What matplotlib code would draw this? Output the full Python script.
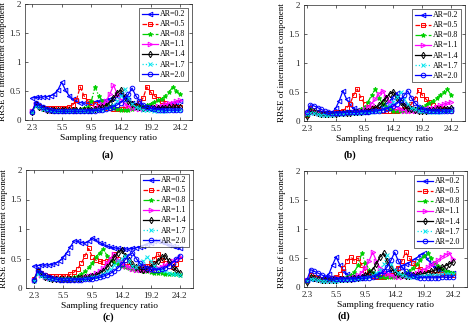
import matplotlib
matplotlib.use('Agg')
import matplotlib.pyplot as plt

plt.rcParams['font.family'] = ['Liberation Serif', 'DejaVu Serif']

# tick labels of the sampling frequency ratio axis (placed every 8 samples)
x_ticklabels = ['2.3', '5.5', '9.5', '14.2', '19.2', '24.2']
y_ticks = [0, 0.5, 1, 1.5, 2]
y_ticklabels = ['0', '0.5', '1', '1.5', '2']
ar_labels = ['AR=0.2', 'AR=0.5', 'AR=0.8', 'AR=1.1', 'AR=1.4', 'AR=1.7', 'AR=2.0']

# ---- case (a) ----
a_ar02 = [0.38, 0.39, 0.39, 0.40, 0.40, 0.42, 0.45, 0.52, 0.65, 0.52, 0.42, 0.36, 0.32, 0.30, 0.29, 0.29,
          0.30, 0.31, 0.32, 0.33, 0.34, 0.36, 0.38, 0.42, 0.45, 0.40, 0.35, 0.30, 0.27, 0.25, 0.23, 0.22,
          0.21, 0.21, 0.22, 0.23, 0.25, 0.27, 0.29, 0.31, 0.33]
a_ar05 = [0.14, 0.27, 0.24, 0.21, 0.20, 0.20, 0.20, 0.20, 0.20, 0.21, 0.22, 0.26, 0.35, 0.57, 0.42, 0.33,
          0.30, 0.27, 0.25, 0.23, 0.21, 0.20, 0.19, 0.19, 0.19, 0.19, 0.20, 0.22, 0.25, 0.30, 0.38, 0.57,
          0.48, 0.42, 0.37, 0.33, 0.29, 0.26, 0.24, 0.23, 0.22]
a_ar08 = [0.13, 0.26, 0.22, 0.19, 0.17, 0.16, 0.16, 0.16, 0.16, 0.16, 0.16, 0.17, 0.17, 0.18, 0.20, 0.23,
          0.32, 0.57, 0.42, 0.33, 0.27, 0.23, 0.20, 0.19, 0.18, 0.18, 0.18, 0.19, 0.20, 0.22, 0.24, 0.26,
          0.28, 0.31, 0.34, 0.37, 0.41, 0.48, 0.57, 0.50, 0.44]
a_ar11 = [0.15, 0.28, 0.24, 0.20, 0.18, 0.16, 0.15, 0.15, 0.15, 0.15, 0.15, 0.15, 0.15, 0.16, 0.16, 0.17,
          0.18, 0.20, 0.23, 0.27, 0.33, 0.44, 0.60, 0.45, 0.35, 0.28, 0.24, 0.21, 0.20, 0.19, 0.19, 0.20,
          0.21, 0.22, 0.24, 0.25, 0.27, 0.29, 0.30, 0.32, 0.34]
a_ar14 = [0.14, 0.27, 0.23, 0.20, 0.18, 0.17, 0.17, 0.17, 0.17, 0.17, 0.17, 0.17, 0.17, 0.17, 0.17, 0.18,
          0.18, 0.19, 0.20, 0.22, 0.25, 0.30, 0.38, 0.47, 0.52, 0.40, 0.32, 0.27, 0.24, 0.22, 0.21, 0.20,
          0.20, 0.20, 0.21, 0.21, 0.21, 0.22, 0.22, 0.22, 0.22]
a_ar17 = [0.13, 0.25, 0.22, 0.19, 0.17, 0.16, 0.15, 0.15, 0.15, 0.15, 0.15, 0.15, 0.15, 0.15, 0.16, 0.16,
          0.16, 0.17, 0.17, 0.18, 0.20, 0.22, 0.26, 0.33, 0.42, 0.53, 0.38, 0.28, 0.23, 0.20, 0.18, 0.17,
          0.17, 0.16, 0.16, 0.16, 0.16, 0.17, 0.17, 0.17, 0.17]
a_ar20 = [0.14, 0.30, 0.26, 0.22, 0.19, 0.17, 0.16, 0.15, 0.15, 0.15, 0.15, 0.15, 0.15, 0.15, 0.15, 0.16,
          0.16, 0.16, 0.17, 0.18, 0.19, 0.21, 0.23, 0.26, 0.30, 0.36, 0.44, 0.55, 0.42, 0.33, 0.26, 0.22,
          0.20, 0.19, 0.18, 0.18, 0.17, 0.17, 0.17, 0.17, 0.17]

# ---- case (b) ----
b_ar02 = [0.12, 0.15, 0.16, 0.15, 0.14, 0.13, 0.13, 0.14, 0.22, 0.35, 0.52, 0.38, 0.28, 0.22, 0.19, 0.18,
          0.18, 0.18, 0.19, 0.20, 0.22, 0.25, 0.29, 0.35, 0.42, 0.48, 0.38, 0.30, 0.25, 0.22, 0.20, 0.19,
          0.18, 0.18, 0.18, 0.18, 0.18, 0.19, 0.19, 0.20, 0.20]
b_ar05 = [0.10, 0.22, 0.19, 0.16, 0.14, 0.14, 0.14, 0.14, 0.15, 0.16, 0.18, 0.22, 0.30, 0.45, 0.55, 0.40,
          0.30, 0.25, 0.22, 0.20, 0.19, 0.18, 0.18, 0.18, 0.18, 0.18, 0.19, 0.21, 0.24, 0.29, 0.38, 0.53,
          0.45, 0.38, 0.32, 0.28, 0.25, 0.22, 0.20, 0.19, 0.18]
b_ar08 = [0.10, 0.20, 0.17, 0.15, 0.14, 0.13, 0.13, 0.13, 0.13, 0.13, 0.14, 0.14, 0.15, 0.16, 0.18, 0.20,
          0.25, 0.33, 0.45, 0.55, 0.40, 0.30, 0.24, 0.20, 0.18, 0.17, 0.17, 0.17, 0.18, 0.19, 0.21, 0.23,
          0.25, 0.28, 0.31, 0.35, 0.39, 0.44, 0.50, 0.55, 0.45]
b_ar11 = [0.14, 0.18, 0.16, 0.14, 0.13, 0.12, 0.12, 0.12, 0.12, 0.12, 0.13, 0.13, 0.14, 0.15, 0.16, 0.18,
          0.20, 0.24, 0.30, 0.38, 0.47, 0.52, 0.42, 0.33, 0.27, 0.23, 0.20, 0.18, 0.17, 0.17, 0.17, 0.18,
          0.19, 0.20, 0.22, 0.23, 0.25, 0.27, 0.29, 0.31, 0.33]
b_ar14 = [0.08, 0.17, 0.15, 0.13, 0.12, 0.12, 0.12, 0.12, 0.12, 0.13, 0.13, 0.14, 0.14, 0.15, 0.15, 0.16,
          0.17, 0.18, 0.20, 0.23, 0.27, 0.33, 0.40, 0.47, 0.50, 0.40, 0.32, 0.26, 0.22, 0.20, 0.19, 0.18,
          0.18, 0.18, 0.19, 0.19, 0.20, 0.20, 0.21, 0.21, 0.22]
b_ar17 = [0.12, 0.14, 0.13, 0.12, 0.11, 0.11, 0.11, 0.11, 0.12, 0.12, 0.12, 0.13, 0.13, 0.13, 0.14, 0.14,
          0.15, 0.15, 0.16, 0.17, 0.18, 0.20, 0.23, 0.27, 0.33, 0.41, 0.50, 0.38, 0.29, 0.23, 0.20, 0.18,
          0.17, 0.17, 0.16, 0.16, 0.16, 0.16, 0.17, 0.17, 0.17]
b_ar20 = [0.15, 0.28, 0.26, 0.23, 0.20, 0.17, 0.15, 0.14, 0.14, 0.14, 0.14, 0.15, 0.15, 0.15, 0.15, 0.16,
          0.16, 0.16, 0.17, 0.17, 0.18, 0.19, 0.21, 0.23, 0.26, 0.30, 0.36, 0.44, 0.52, 0.40, 0.31, 0.25,
          0.21, 0.19, 0.18, 0.17, 0.17, 0.17, 0.17, 0.17, 0.17]

# ---- case (c) ----
c_ar02 = [0.37, 0.38, 0.39, 0.39, 0.39, 0.40, 0.42, 0.46, 0.52, 0.60, 0.70, 0.80, 0.79, 0.77, 0.76, 0.79,
          0.85, 0.81, 0.77, 0.74, 0.71, 0.69, 0.68, 0.67, 0.66, 0.66, 0.66, 0.67, 0.68, 0.70, 0.72, 0.74,
          0.77, 0.79, 0.80, 0.78, 0.76, 0.73, 0.71, 0.69, 0.67]
c_ar05 = [0.15, 0.29, 0.25, 0.22, 0.20, 0.20, 0.20, 0.20, 0.20, 0.21, 0.23, 0.27, 0.33, 0.42, 0.55, 0.67,
          0.52, 0.47, 0.45, 0.44, 0.45, 0.50, 0.57, 0.50, 0.44, 0.40, 0.37, 0.35, 0.34, 0.34, 0.35, 0.37,
          0.42, 0.50, 0.58, 0.48, 0.42, 0.38, 0.36, 0.40, 0.50]
c_ar08 = [0.13, 0.27, 0.23, 0.19, 0.17, 0.16, 0.16, 0.16, 0.16, 0.16, 0.17, 0.18, 0.20, 0.23, 0.28, 0.35,
          0.42, 0.52, 0.60, 0.66, 0.55, 0.48, 0.44, 0.41, 0.38, 0.36, 0.34, 0.32, 0.31, 0.30, 0.29, 0.28,
          0.27, 0.26, 0.26, 0.25, 0.24, 0.24, 0.23, 0.23, 0.22]
c_ar11 = [0.14, 0.26, 0.22, 0.19, 0.17, 0.16, 0.15, 0.15, 0.15, 0.15, 0.15, 0.16, 0.16, 0.17, 0.18, 0.20,
          0.22, 0.25, 0.29, 0.34, 0.42, 0.50, 0.57, 0.48, 0.42, 0.38, 0.35, 0.33, 0.31, 0.30, 0.30, 0.30,
          0.31, 0.32, 0.34, 0.36, 0.39, 0.42, 0.45, 0.48, 0.52]
c_ar14 = [0.13, 0.28, 0.23, 0.19, 0.17, 0.16, 0.16, 0.16, 0.16, 0.16, 0.16, 0.16, 0.17, 0.17, 0.18, 0.19,
          0.20, 0.22, 0.25, 0.29, 0.35, 0.43, 0.52, 0.60, 0.65, 0.55, 0.47, 0.40, 0.35, 0.32, 0.31, 0.32,
          0.35, 0.40, 0.46, 0.52, 0.55, 0.45, 0.36, 0.30, 0.26]
c_ar17 = [0.12, 0.24, 0.21, 0.18, 0.16, 0.15, 0.15, 0.15, 0.15, 0.15, 0.15, 0.15, 0.15, 0.16, 0.16, 0.17,
          0.18, 0.19, 0.21, 0.24, 0.28, 0.33, 0.39, 0.45, 0.50, 0.55, 0.45, 0.38, 0.36, 0.40, 0.46, 0.53,
          0.45, 0.38, 0.33, 0.30, 0.28, 0.26, 0.24, 0.23, 0.22]
c_ar20 = [0.14, 0.30, 0.26, 0.22, 0.19, 0.17, 0.15, 0.14, 0.13, 0.13, 0.13, 0.14, 0.14, 0.14, 0.15, 0.15,
          0.16, 0.17, 0.18, 0.20, 0.22, 0.25, 0.29, 0.34, 0.40, 0.48, 0.55, 0.60, 0.50, 0.42, 0.37, 0.34,
          0.32, 0.31, 0.31, 0.32, 0.34, 0.38, 0.43, 0.49, 0.55]

# ---- case (d) ----
d_ar02 = [0.12, 0.14, 0.14, 0.13, 0.13, 0.15, 0.22, 0.38, 0.52, 0.38, 0.28, 0.22, 0.19, 0.18, 0.18, 0.19,
          0.19, 0.20, 0.21, 0.22, 0.23, 0.24, 0.26, 0.28, 0.30, 0.33, 0.36, 0.39, 0.42, 0.46, 0.50, 0.55,
          0.58, 0.48, 0.40, 0.35, 0.31, 0.28, 0.26, 0.25, 0.24]
d_ar05 = [0.10, 0.20, 0.17, 0.15, 0.14, 0.14, 0.14, 0.15, 0.17, 0.22, 0.32, 0.45, 0.52, 0.45, 0.50, 0.38,
          0.28, 0.22, 0.19, 0.18, 0.18, 0.18, 0.19, 0.21, 0.25, 0.32, 0.45, 0.60, 0.50, 0.42, 0.36, 0.31,
          0.28, 0.26, 0.24, 0.23, 0.22, 0.22, 0.21, 0.21, 0.21]
d_ar08 = [0.11, 0.18, 0.16, 0.14, 0.13, 0.13, 0.13, 0.13, 0.14, 0.14, 0.15, 0.17, 0.20, 0.26, 0.38, 0.58,
          0.42, 0.30, 0.24, 0.20, 0.18, 0.17, 0.17, 0.17, 0.18, 0.19, 0.21, 0.24, 0.28, 0.33, 0.39, 0.46,
          0.53, 0.58, 0.50, 0.42, 0.36, 0.31, 0.28, 0.26, 0.25]
d_ar11 = [0.12, 0.16, 0.15, 0.13, 0.12, 0.12, 0.12, 0.12, 0.12, 0.13, 0.13, 0.14, 0.15, 0.17, 0.20, 0.25,
          0.33, 0.45, 0.60, 0.45, 0.33, 0.26, 0.22, 0.20, 0.19, 0.18, 0.18, 0.19, 0.20, 0.22, 0.24, 0.27,
          0.30, 0.34, 0.38, 0.42, 0.47, 0.52, 0.56, 0.58, 0.48]
d_ar14 = [0.09, 0.17, 0.15, 0.13, 0.12, 0.12, 0.12, 0.12, 0.12, 0.13, 0.13, 0.14, 0.14, 0.15, 0.16, 0.18,
          0.20, 0.24, 0.30, 0.40, 0.52, 0.58, 0.44, 0.33, 0.26, 0.22, 0.20, 0.19, 0.19, 0.20, 0.21, 0.22,
          0.23, 0.25, 0.27, 0.29, 0.31, 0.34, 0.37, 0.40, 0.43]
d_ar17 = [0.11, 0.14, 0.13, 0.12, 0.11, 0.11, 0.11, 0.11, 0.11, 0.12, 0.12, 0.12, 0.13, 0.13, 0.14, 0.15,
          0.16, 0.18, 0.20, 0.24, 0.30, 0.40, 0.55, 0.40, 0.30, 0.24, 0.21, 0.19, 0.18, 0.18, 0.18, 0.19,
          0.19, 0.20, 0.20, 0.21, 0.21, 0.22, 0.22, 0.23, 0.23]
d_ar20 = [0.12, 0.30, 0.27, 0.24, 0.21, 0.18, 0.16, 0.15, 0.14, 0.14, 0.14, 0.14, 0.14, 0.14, 0.15, 0.15,
          0.15, 0.16, 0.17, 0.19, 0.22, 0.27, 0.35, 0.46, 0.60, 0.45, 0.34, 0.27, 0.22, 0.19, 0.17, 0.16,
          0.16, 0.16, 0.16, 0.16, 0.16, 0.17, 0.17, 0.17, 0.18]

# line styles for the seven aspect ratios
colors = ['#0000ff', '#ff0000', '#00d000', '#ff00ff', '#000000', '#00e5ee', '#0000ff']
markers = ['<', 's', '*', '>', 'd', 'x', 'o']
lstyles = ['-', '--', '-.', '-', '-', ':', '-']

# tag, curves, axes box in pixels (left, bottom, right, top), x limits, tag position
panels = [
    ('(a)', [a_ar02, a_ar05, a_ar08, a_ar11, a_ar14, a_ar17, a_ar20], [25, 120, 192, 4], (-1.9, 43.2), (108, 155)),
    ('(b)', [b_ar02, b_ar05, b_ar08, b_ar11, b_ar14, b_ar17, b_ar20], [304, 121, 465, 5], (-0.8, 43.9), (350, 155)),
    ('(c)', [c_ar02, c_ar05, c_ar08, c_ar11, c_ar14, c_ar17, c_ar20], [26, 288, 193, 170], (-2.2, 43.6), (108, 317)),
    ('(d)', [d_ar02, d_ar05, d_ar08, d_ar11, d_ar14, d_ar17, d_ar20], [304, 287, 467, 171], (-0.8, 43.8), (344, 316)),
]

W, H = 474, 326
fig = plt.figure(figsize=(W / 100, H / 100), dpi=100)

for tag, series, box, xl, tag_xy in panels:
    l, b, r, t = box
    ax = fig.add_axes([l / W, 1 - b / H, (r - l) / W, (b - t) / H])
    for k, y in enumerate(series):
        x = list(range(len(y)))
        mfc = colors[k] if markers[k] in ('*', 'x') else 'none'
        ax.plot(x, y, color=colors[k], linestyle=lstyles[k], linewidth=0.9,
                marker=markers[k], markersize=3.3, markerfacecolor=mfc,
                markeredgewidth=0.7, label=ar_labels[k])
    ax.set_xlim(*xl)
    ax.set_ylim(0, 2)
    ax.set_xticks(range(0, 41, 8))
    ax.set_xticklabels(x_ticklabels)
    ax.set_yticks(y_ticks)
    ax.set_yticklabels(y_ticklabels)
    ax.tick_params(direction='in', top=True, right=True, labelsize=6.5,
                   length=2, width=0.5, pad=3, colors='#262626')
    for s in ax.spines.values():
        s.set_linewidth(0.5)
        s.set_color('#262626')
    ax.set_xlabel('Sampling frequency ratio', fontsize=6.8, labelpad=1)
    ax.set_ylabel('RRSE of intermittent component', fontsize=6.5, labelpad=2)
    leg = ax.legend(loc='upper right', fontsize=5.8, frameon=True, fancybox=False,
                    handlelength=2.0, handletextpad=0.3, labelspacing=0.25,
                    borderpad=0.3, borderaxespad=0.5, edgecolor='black')
    leg.get_frame().set_linewidth(0.5)
    fig.text(tag_xy[0] / W, 1 - tag_xy[1] / H, tag, ha='center', va='center',
             fontsize=7.5, fontweight='bold')

fig.savefig('out.png', dpi=100)
